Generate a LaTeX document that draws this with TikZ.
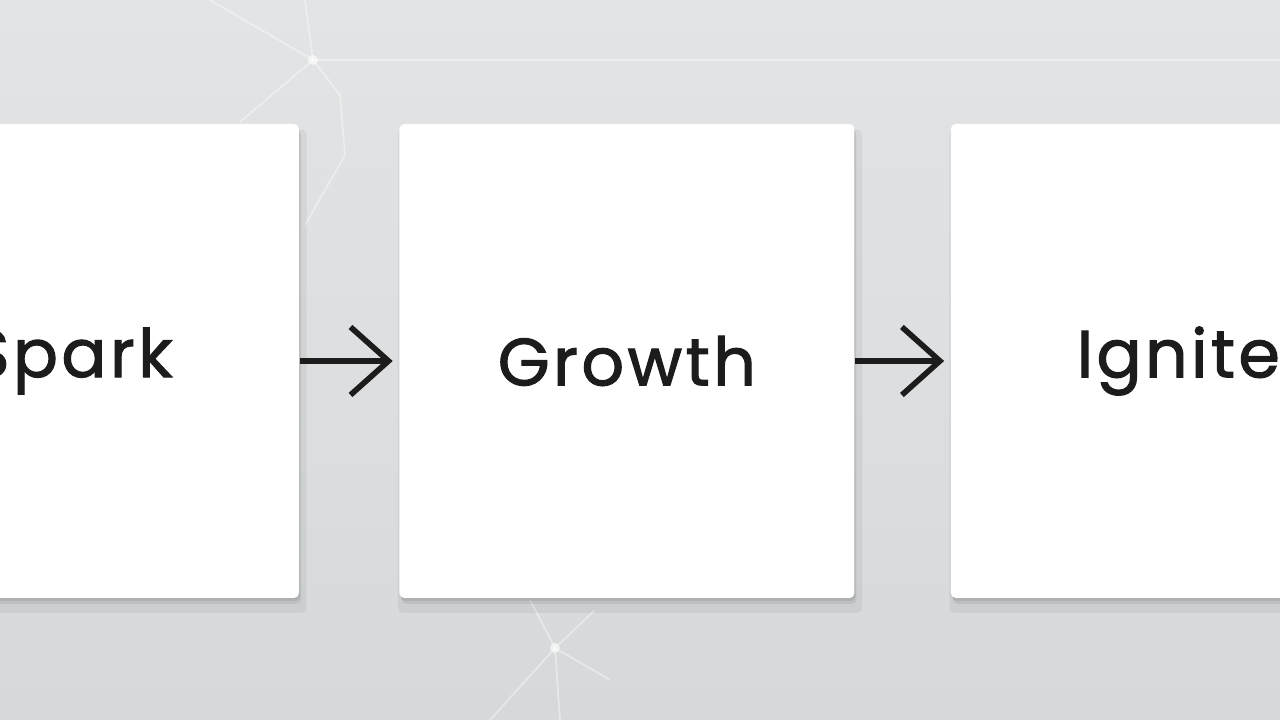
\documentclass[tikz,border=0pt]{standalone}
\usepackage{fontspec}
\setmainfont{Poppins}[FakeBold=1.6, LetterSpace=5]
\usetikzlibrary{arrows.meta}
\usetikzlibrary{positioning}
\usetikzlibrary{shadows}

\definecolor{bgtop}{HTML}{E3E4E5}
\definecolor{bgbot}{HTML}{D6D9DA}
\definecolor{ink}{HTML}{1C1C1C}

\tikzset{
  card/.style={fill=white, rounded corners=0.05cm, minimum width=4.55cm,
    minimum height=4.74cm, inner sep=0pt, font=\fontsize{19}{23}\selectfont,
    text=ink,
    drop shadow={shadow xshift=0.03cm, shadow yshift=-0.10cm, opacity=0.05, fill=black, shadow scale=1.02},
    drop shadow={shadow xshift=0.02cm, shadow yshift=-0.06cm, opacity=0.07, fill=black},
    drop shadow={shadow xshift=0.01cm, shadow yshift=-0.03cm, opacity=0.08, fill=black}},
  flow/.style={draw=ink, line width=1.6pt, -{Straight Barb[length=3.8mm, width=6.8mm, line width=1.6pt]},
    shorten >=0.06cm},
  net/.style={white, opacity=0.4, line width=0.5pt}
}

\begin{document}
\begin{tikzpicture}
\useasboundingbox (0,0) rectangle (12.8,7.2);
\clip (0,0) rectangle (12.8,7.2);
\shade[top color=bgtop, bottom color=bgbot] (0,0) rectangle (12.8,7.2);

% faint network in the background
\coordinate (n1) at (3.13,6.60);
\coordinate (n2) at (5.55,0.72);
\coordinate (n3) at (3.45,5.65);
\draw[net] (2.10,7.20) -- (n1) -- (3.40,6.25) -- (3.45,5.65);
\draw[net] (n1) -- (3.05,7.20);
\draw[net] (n1) -- (2.40,5.98);
\draw[net] (n1) -- (12.8,6.60);
\draw[net] (n3) -- (3.05,4.95);
\draw[net] (n2) -- (4.90,0.00);
\draw[net] (n2) -- (5.60,0.00);
\draw[net] (n2) -- (5.30,1.20);
\draw[net] (n2) -- (5.95,1.10);
\draw[net] (n2) -- (6.10,0.40);
\fill[white, opacity=0.6] (n1) circle (0.05) (n2) circle (0.05);

\node[card] (spark) at (0.715,3.59) {Spark};
\node[card, right=0.99cm of spark] (growth) {Growth};
\node[card, right=0.95cm of growth] (ignite) {Ignite};

\draw[flow] (spark.east) -- (growth.west);
\draw[flow] (growth.east) -- (ignite.west);
\end{tikzpicture}
\end{document}
